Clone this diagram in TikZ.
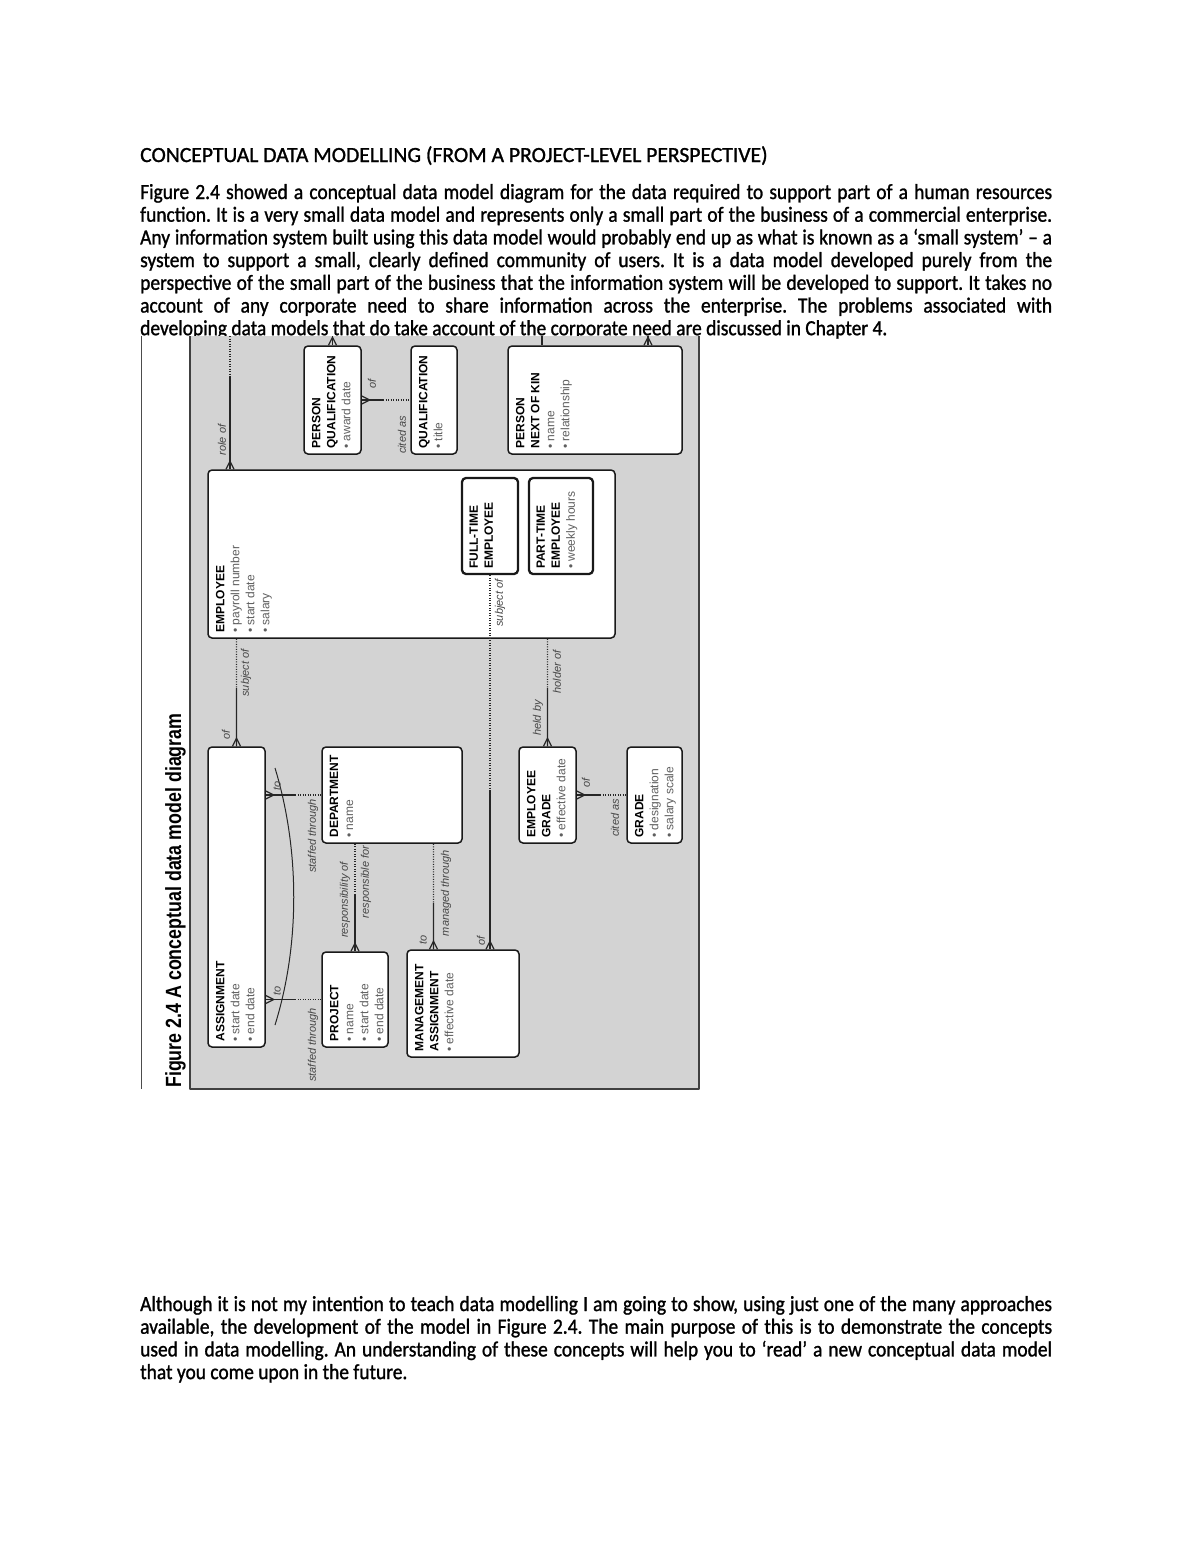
\documentclass[tikz,border=0pt]{standalone}
\usepackage{fontspec}
\setmainfont{Carlito}
\newfontfamily\bodyfont{Carlito}[FakeStretch=0.9, FakeBold=1.2]
\newfontfamily\headfont{Carlito}[FakeBold=1.2]
\newfontfamily\erfont{Liberation Sans}
\newfontfamily\capfont{Liberation Sans}[FakeStretch=0.81]
\usetikzlibrary{calc,fit}
\frenchspacing
\definecolor{panel}{RGB}{211,211,211}
\definecolor{attr}{RGB}{95,95,95}
\definecolor{rel}{RGB}{70,70,70}
\newcommand{\ename}[1]{\textbf{#1}}
\newcommand{\attrib}[1]{\textcolor{attr}{\textbullet\ #1}}
\newcommand{\loosepar}{\tolerance=9999\relax\hyphenpenalty=10000\relax\frenchspacing}
\tikzset{
  entity/.style={draw=black!90, fill=white, rounded corners=4pt, line width=1.5pt, inner sep=0pt},
  subtype/.style={entity, line width=2.3pt},
  etext/.style={rotate=90, anchor=north west, align=left, inner xsep=6pt, inner ysep=8.5pt,
    font=\erfont\fontsize{12}{15}\selectfont},
  lbl/.style={rotate=90, inner sep=0pt, text=rel, font=\erfont\itshape\fontsize{11}{13}\selectfont},
  must/.style={line width=1.2pt, black!85},
  may/.style={line width=1.2pt, black!85, dash pattern=on 1.2pt off 1.3pt},
  crow/.pic={\draw[line width=1.2pt, black!85] (-4,0) -- (0,-8) -- (4,0);},
  bodytext/.style={anchor=base west, inner sep=0pt, text width=912pt, align=justify,
    font=\bodyfont\fontsize{21.6}{22.7}\selectfont}
}
\begin{document}
\begin{tikzpicture}[x=1pt, y=-1pt, line join=round]
\fill[white] (0,0) rectangle (1200,1553);
\useasboundingbox (0,0) rectangle (1200,1553);

% page text
\node[anchor=base west, inner sep=0pt, font=\headfont\fontsize{21.6}{22.7}\selectfont] (head) at (140,162)
  {CONCEPTUAL DATA MODELLING (FROM A PROJECT-LEVEL PERSPECTIVE)};
\node[bodytext] (intro) at (140,199) {\loosepar Figure 2.4 showed a conceptual data model diagram for the data required to support part of a human resources\linebreak
function. It is a very small data model and represents only a small part of the business of a commercial enterprise.\linebreak
Any information system built using this data model would probably end up as what is known as a ‘small system’ – a\linebreak
system to support a small, clearly defined community of users. It is a data model developed purely from the\linebreak
perspective of the small part of the business that the information system will be developed to support. It takes no\linebreak
account of any corporate need to share information across the enterprise. The problems associated with\linebreak
developing data models that do take account of the corporate need are discussed in Chapter 4.};
\node[bodytext] (outro) at (140,1311) {\loosepar Although it is not my intention to teach data modelling I am going to show, using just one of the many approaches\linebreak
available, the development of the model in Figure 2.4. The main purpose of this is to demonstrate the concepts\linebreak
used in data modelling. An understanding of these concepts will help you to ‘read’ a new conceptual data model\linebreak
that you come upon in the future.};

% figure panel and caption
\draw[line width=1pt, black!70] (141,336) -- (141,1089);
\fill[panel] (190,336) rectangle (699,1089);
\draw[line width=1.5pt, black!75] (190,336) -- (190,1089) -- (699,1089) -- (699,336);
\node[rotate=90, anchor=base west, inner sep=0pt, font=\capfont\bfseries\fontsize{22}{24}\selectfont] (caption) at (181,1088)
  {Figure 2.4 A conceptual data model diagram};

% entities
\node[entity, fit={(304,346) (361,454)}] (pq) {};
\node[entity, fit={(411,346) (457,454)}] (qual) {};
\node[entity, fit={(508,346) (682,454)}] (kin) {};
\node[entity, fit={(208,470) (615,638)}] (emp) {};
\node[subtype, fit={(462,478) (518,574)}] (ft) {};
\node[subtype, fit={(529,478) (593,574)}] (pt) {};
\node[entity, fit={(208,747) (265,1047)}] (asg) {};
\node[entity, fit={(322,747) (462,843)}] (dept) {};
\node[entity, fit={(322,952) (388,1047)}] (proj) {};
\node[entity, fit={(407,950) (519,1057)}] (mgt) {};
\node[entity, fit={(519,747) (576,843)}] (eg) {};
\node[entity, fit={(627,747) (682,843)}] (grade) {};

\node[etext] (pqT) at (pq.south west) {\ename{PERSON}\\\ename{QUALIFICATION}\\\attrib{award date}};
\node[etext] (qualT) at (qual.south west) {\ename{QUALIFICATION}\\\attrib{title}};
\node[etext] (kinT) at (kin.south west) {\ename{PERSON}\\\ename{NEXT OF KIN}\\\attrib{name}\\\attrib{relationship}};
\node[etext] (empT) at (emp.south west) {\ename{EMPLOYEE}\\\attrib{payroll number}\\\attrib{start date}\\\attrib{salary}};
\node[etext] (ftT) at (ft.south west) {\ename{FULL-TIME}\\\ename{EMPLOYEE}};
\node[etext] (ptT) at (pt.south west) {\ename{PART-TIME}\\\ename{EMPLOYEE}\\\attrib{weekly hours}};
\node[etext] (asgT) at (asg.south west) {\ename{ASSIGNMENT}\\\attrib{start date}\\\attrib{end date}};
\node[etext] (deptT) at (dept.south west) {\ename{DEPARTMENT}\\\attrib{name}};
\node[etext] (projT) at (proj.south west) {\ename{PROJECT}\\\attrib{name}\\\attrib{start date}\\\attrib{end date}};
\node[etext] (mgtT) at (mgt.south west) {\ename{MANAGEMENT}\\\ename{ASSIGNMENT}\\\attrib{effective date}};
\node[etext] (egT) at (eg.south west) {\ename{EMPLOYEE}\\\ename{GRADE}\\\attrib{effective date}};
\node[etext] (gradeT) at (grade.south west) {\ename{GRADE}\\\attrib{designation}\\\attrib{salary scale}};

% relationships running out of the top of the panel
\coordinate (roleEnd) at (230,336);
\coordinate (pqEnd) at (pq.north |- roleEnd);
\coordinate (kinEndA) at (542,336);
\coordinate (kinEndB) at (648,336);
\draw[may] (roleEnd) -- ($(roleEnd)!0.3!(roleEnd |- emp.north)$) coordinate (roleMid);
\draw[must] (roleMid) -- (roleEnd |- emp.north);
\pic at (roleEnd |- emp.north) {crow};
\draw[must] (pqEnd) -- (pq.north);
\pic at (pq.north) {crow};
\draw[must] (kinEndA) -- (kinEndA |- kin.north);
\draw[must] (kinEndB) -- (kinEndB |- kin.north);
\pic at (kinEndB |- kin.north) {crow};

% relationships inside the panel
\draw[must] (pq.east) -- ($(pq.east)!0.44!(qual.west)$) coordinate (m1);
\draw[may] (m1) -- (qual.west);
\pic[rotate=-90] at (pq.east) {crow};

\draw[may] (emp.south -| asg.north) -- ($(emp.south -| asg.north)!0.46!(asg.north)$) coordinate (m2);
\draw[must] (m2) -- (asg.north);
\pic at (asg.north) {crow};

\draw[may] (ft.south) -- ($(ft.south)!0.574!(ft.south |- mgt.north)$) coordinate (m3);
\draw[must] (m3) -- (ft.south |- mgt.north);
\pic at (ft.south |- mgt.north) {crow};

\draw[may] (emp.south -| eg.north) -- ($(emp.south -| eg.north)!0.46!(eg.north)$) coordinate (m4);
\draw[must] (m4) -- (eg.north);
\pic at (eg.north) {crow};

\draw[must] (eg.east) -- ($(eg.east)!0.47!(grade.west)$) coordinate (m5);
\draw[may] (m5) -- (grade.west);
\pic[rotate=-90] at (eg.east) {crow};

\draw[must] (asg.east |- dept.west) -- ($(asg.east |- dept.west)!0.53!(dept.west)$) coordinate (m6);
\draw[may] (m6) -- (dept.west);
\pic[rotate=-90] at (asg.east |- dept.west) {crow};

\draw[must] (asg.east |- proj.west) -- ($(asg.east |- proj.west)!0.53!(proj.west)$) coordinate (m7);
\draw[may] (m7) -- (proj.west);
\pic[rotate=-90] at (asg.east |- proj.west) {crow};

\draw[may] (dept.south -| proj.north) -- ($(dept.south -| proj.north)!0.48!(proj.north)$) coordinate (m8);
\draw[must] (m8) -- (proj.north);
\pic at (proj.north) {crow};

\path ($(mgt.north west)!0.24!(mgt.north east)$) coordinate (mgtIn);
\draw[may] (dept.south -| mgtIn) -- ($(dept.south -| mgtIn)!0.56!(mgtIn)$) coordinate (m9);
\draw[must] (m9) -- (mgtIn);
\pic at (mgtIn) {crow};

% exclusive arc across the two assignment links
\draw[line width=1pt, black!85] (275,768) .. controls (300,850) and (300,945) .. (275,1025);

\foreach \p/\txt/\nm in {(222,440)/role of/lRole, (372,384)/of/lPqOf, (402,435)/cited as/lPqCited,
  (246,673)/subject of/lAsgSubj, (226,735)/of/lAsgOf, (500,603)/subject of/lFtSubj, (481,941)/of/lMgtOf,
  (557,672)/holder of/lHolder, (538,718)/held by/lHeld, (586,783)/of/lEgOf, (615,818)/cited as/lGradeCited,
  (277,786)/to/lDeptTo, (313,836)/staffed through/lDeptStaff, (277,991)/to/lProjTo,
  (313,1045)/staffed through/lProjStaff, (345,900)/responsibility of/lRespOf,
  (366,882)/responsible for/lRespFor, (446,893)/managed through/lManaged, (423,940)/to/lMgtTo}
  \node[lbl] (\nm) at \p {\txt};
\end{tikzpicture}
\end{document}
